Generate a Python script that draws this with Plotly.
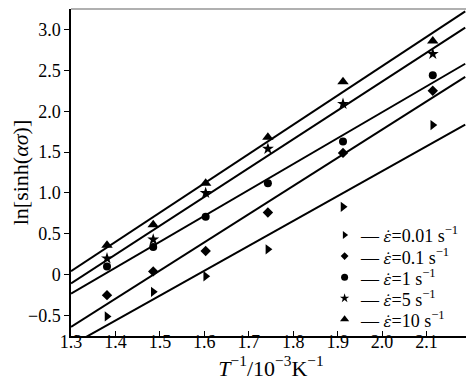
import numpy as np
import plotly.graph_objects as go

# Data
inv_T = [1.381, 1.485, 1.603, 1.743, 1.912, 2.114]          # T^-1 / 10^-3 K^-1
rate_labels = ["0.01", "0.1", "1", "5", "10"]                 # strain rate, s^-1
ln_sinh_0p01 = [-0.51, -0.21, -0.02, 0.31, 0.83, 1.83]
ln_sinh_0p1 = [-0.25, 0.04, 0.29, 0.76, 1.49, 2.25]
ln_sinh_1 = [0.10, 0.34, 0.71, 1.12, 1.63, 2.44]
ln_sinh_5 = [0.20, 0.43, 1.00, 1.54, 2.09, 2.70]
ln_sinh_10 = [0.36, 0.61, 1.12, 1.68, 2.36, 2.86]
fit_x_range = [1.3, 2.187]

x_tick_vals = [1.3, 1.4, 1.5, 1.6, 1.7, 1.8, 1.9, 2.0, 2.1, 2.2]
x_tick_text = ["1.3", "1.4", "1.5", "1.6", "1.7", "1.8", "1.9", "2.0", "2.1", "2.2"]
y_tick_vals = [-0.5, 0, 0.5, 1.0, 1.5, 2.0, 2.5, 3.0]
y_tick_text = ["\u22120.5", "0", "0.5", "1.0", "1.5", "2.0", "2.5", "3.0"]

series = [ln_sinh_0p01, ln_sinh_0p1, ln_sinh_1, ln_sinh_5, ln_sinh_10]
symbols = ["triangle-right", "diamond", "circle", "star", "triangle-up"]
sizes = [9, 8, 8, 9, 10]
legend_sizes = [7, 6, 7, 7, 8]

# legend layout (fractions of the plot area)
LEG_MARK_X = 0.684
LEG_TEXT_X = 0.717
LEG_TOP = 0.309
LEG_STEP = 0.0645

FONT = "Liberation Serif, Times New Roman, serif"
EPS = '<span style="font-family:DejaVu Serif;font-style:italic;font-size:15px">\u03b5\u0307</span>'

fig = go.Figure()
xs = np.array(inv_T)
fx = np.array(fit_x_range)
for ys, lab, sym, sz in zip(series, rate_labels, symbols, sizes):
    k, b = np.polyfit(xs, np.array(ys), 1)
    fig.add_trace(go.Scatter(x=fx, y=k * fx + b, mode="lines",
                             line=dict(color="black", width=2), showlegend=False,
                             hoverinfo="skip"))
    fig.add_trace(go.Scatter(x=inv_T, y=ys, mode="markers",
                             marker=dict(symbol=sym, size=sz, color="black"),
                             showlegend=False))

# hand-built legend: symbols on an overlay axis spanning [0, 1], labels as annotations
annotations = []
for i, (lab, sym, lsz) in enumerate(zip(rate_labels, symbols, legend_sizes)):
    yy = LEG_TOP - i * LEG_STEP
    fig.add_trace(go.Scatter(x=[LEG_MARK_X], y=[yy], mode="markers",
                             marker=dict(symbol=sym, size=lsz, color="black"),
                             xaxis="x2", yaxis="y2", showlegend=False,
                             hoverinfo="skip", cliponaxis=False))
    annotations.append(dict(x=LEG_TEXT_X, y=yy, xref="paper", yref="paper",
                            xanchor="left", yanchor="middle", showarrow=False,
                            text="\u2014 " + EPS + "=" + lab + " s<sup>\u22121</sup>",
                            font=dict(size=18)))

fig.update_layout(
    width=474, height=377,
    margin=dict(l=58, r=11, t=1, b=49),
    paper_bgcolor="white", plot_bgcolor="white",
    font=dict(family=FONT, size=18, color="black"),
    showlegend=False,
    annotations=annotations,
    xaxis=dict(range=[1.3, 2.2], tickvals=x_tick_vals, ticktext=x_tick_text,
               ticks="inside", ticklen=5, tickcolor="black", showgrid=False,
               zeroline=False, showline=True, linecolor="black", linewidth=1.5,
               ticklabelstandoff=-11,
               title=dict(text="<i>T</i><sup>\u22121</sup>/10<sup>\u22123</sup>K<sup>\u22121</sup>",
                          standoff=4)),
    yaxis=dict(range=[-0.75, 3.25], tickvals=y_tick_vals, ticktext=y_tick_text,
               ticks="outside", ticklen=5, tickcolor="black", showgrid=False,
               zeroline=False, showline=True, linecolor="black", linewidth=1.5,
               title=dict(text="ln[sinh(<i>\u03b1\u03c3</i>)]", standoff=4)),
    xaxis2=dict(overlaying="x", range=[0, 1], visible=False),
    yaxis2=dict(overlaying="y", range=[0, 1], visible=False),
    shapes=[
        dict(type="line", xref="paper", yref="paper", x0=0, x1=1, y0=1, y1=1,
             line=dict(color="#b0b0b0", width=2)),
        dict(type="line", xref="paper", yref="paper", x0=1, x1=1, y0=0, y1=1,
             line=dict(color="#333333", width=1.5)),
    ],
)

fig.write_html("out.html")
